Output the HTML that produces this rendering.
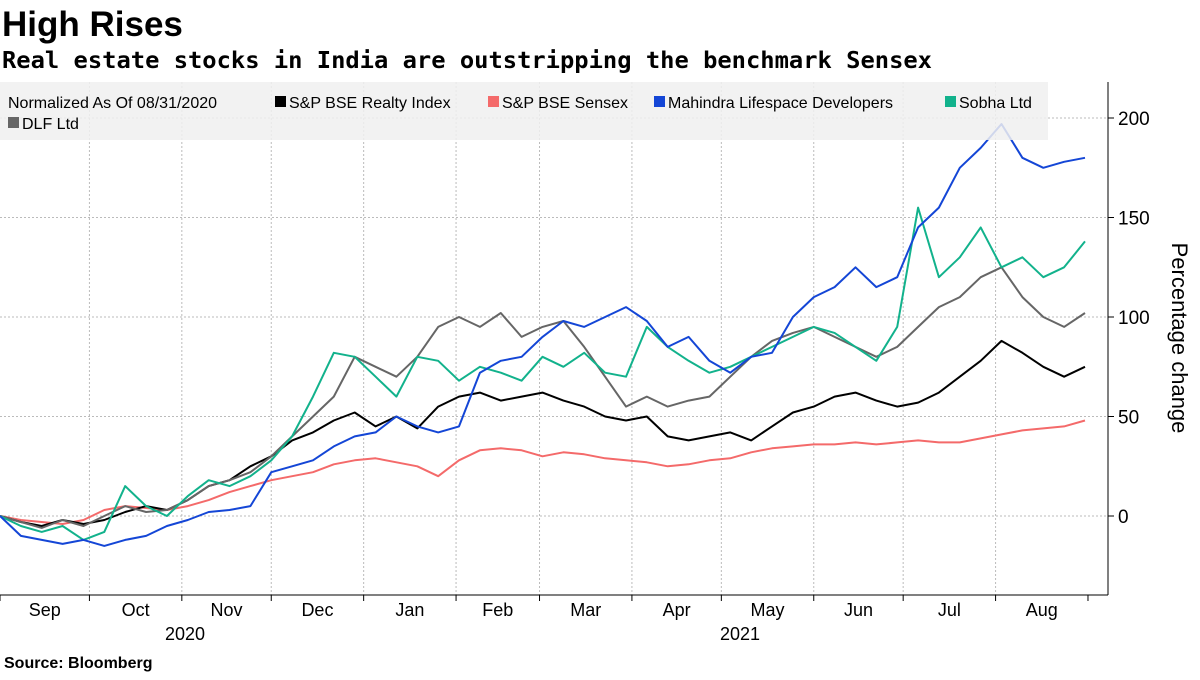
<!DOCTYPE html>
<html><head><meta charset="utf-8"><style>
body{margin:0;background:#fff;width:1200px;height:675px;overflow:hidden;font-family:"Liberation Sans",sans-serif}
</style></head><body>
<svg id="c" width="1200" height="675" xmlns="http://www.w3.org/2000/svg">
<text x="2" y="36" font-size="35" font-weight="bold" fill="#000">High Rises</text>
<text x="2" y="68" font-size="23" font-weight="bold" fill="#000" textLength="930" lengthAdjust="spacingAndGlyphs" font-family="DejaVu Sans Mono, monospace">Real estate stocks in India are outstripping the benchmark Sensex</text>
<g id="grid"></g>
<g id="series"></g>
<rect x="0" y="82" width="1048" height="58" fill="#f0f0f0" fill-opacity="0.85"/>
<g font-size="16" fill="#000">
<text x="8" y="108">Normalized As Of 08/31/2020</text>
<g><rect x="275" y="96" width="11" height="11" fill="#000"/><text x="289" y="108">S&amp;P BSE Realty Index</text></g>
<g><rect x="488" y="96" width="11" height="11" fill="#f46a6a"/><text x="502" y="108">S&amp;P BSE Sensex</text></g>
<g><rect x="654" y="96" width="11" height="11" fill="#1446d6"/><text x="668" y="108">Mahindra Lifespace Developers</text></g>
<g><rect x="945" y="96" width="11" height="11" fill="#12b28c"/><text x="959" y="108">Sobha Ltd</text></g>
<g><rect x="8" y="117" width="11" height="11" fill="#666"/><text x="22" y="129">DLF Ltd</text></g>
</g>
<line x1="1108" y1="82" x2="1108" y2="595" stroke="#000"/>
<line x1="0" y1="595" x2="1108" y2="595" stroke="#000"/>
<g id="yticks" font-size="19"></g>
<g id="xticks" font-size="18"></g>
<text transform="translate(1172,338) rotate(90)" text-anchor="middle" font-size="22">Percentage change</text>
<text x="4" y="668" font-size="16" font-weight="bold">Source: Bloomberg</text>
</svg>
<script>
const yTicks=[0,50,100,150,200];
const months=["Sep","Oct","Nov","Dec","Jan","Feb","Mar","Apr","May","Jun","Jul","Aug"];
const monthStartDays=[0,30,61,91,122,153,181,212,242,273,303,334,365];
const years=["2020","2021"];
const sensex=[0,-2,-3,-4,-2,3,5,4,3,5,8,12,15,18,20,22,26,28,29,27,25,20,28,33,34,33,30,32,31,29,28,27,25,26,28,29,32,34,35,36,36,37,36,37,38,37,37,39,41,43,44,45,48];
const realty=[0,-3,-5,-2,-4,-2,2,5,3,8,15,18,25,30,38,42,48,52,45,50,44,55,60,62,58,60,62,58,55,50,48,50,40,38,40,42,38,45,52,55,60,62,58,55,57,62,70,78,88,82,75,70,75];
const mahindra=[0,-10,-12,-14,-12,-15,-12,-10,-5,-2,2,3,5,22,25,28,35,40,42,50,45,42,45,72,78,80,90,98,95,100,105,98,85,90,78,72,80,82,100,110,115,125,115,120,145,155,175,185,197,180,175,178,180];
const sobha=[0,-5,-8,-5,-12,-8,15,5,0,10,18,15,20,28,40,60,82,80,70,60,80,78,68,75,72,68,80,75,82,72,70,95,85,78,72,75,80,85,90,95,92,85,78,95,155,120,130,145,125,130,120,125,138];
const dlf=[0,-3,-6,-2,-5,0,5,2,3,8,15,18,22,30,40,50,60,80,75,70,80,95,100,95,102,90,95,98,85,70,55,60,55,58,60,70,80,88,92,95,90,85,80,85,95,105,110,120,125,110,100,95,102];
const NS="http://www.w3.org/2000/svg";
const y=v=>516-v*1.99;
const xd=d=>d*1085/364;
function mk(t,a,p){const e=document.createElementNS(NS,t);for(const k in a)e.setAttribute(k,a[k]);p.appendChild(e);return e;}
const grid=document.getElementById('grid'),yt=document.getElementById('yticks'),xt=document.getElementById('xticks');
yTicks.forEach(v=>{
 const l=mk('line',{x1:0,x2:1108,y1:y(v),y2:y(v),stroke:'#bbb','stroke-dasharray':'2,2'},grid);
 
 
 mk('line',{x1:1108,x2:1114,y1:y(v),y2:y(v),stroke:'#000'},yt);
 const t=mk('text',{x:1118,y:y(v)+7},yt);t.textContent=v;
 
 
});
monthStartDays.forEach((d,i)=>{
 if(i>0&&i<monthStartDays.length-1){
  const l=mk('line',{x1:xd(d),x2:xd(d),y1:82,y2:595,stroke:'#bbb','stroke-dasharray':'2,2'},grid);
  
  
 }
 mk('line',{x1:xd(d),x2:xd(d),y1:595,y2:601,stroke:'#000'},xt);
 if(i<months.length){
  const t=mk('text',{x:xd((d+monthStartDays[i+1])/2),y:616,'text-anchor':'middle'},xt);t.textContent=months[i];
  
  
 }
});
[[years[0],185],[years[1],740]].forEach(([s,x])=>{const t=mk('text',{x:x,y:640,'text-anchor':'middle'},xt);t.textContent=s;
 
 });
const sg=document.getElementById('series');
[[sensex,'#f46a6a','sensex-line'],[realty,'#000','realty-line'],[dlf,'#666','dlf-line'],[sobha,'#12b28c','sobha-line'],[mahindra,'#1446d6','mahindra-line']].forEach(([arr,c,n])=>{
 const pts=arr.map((v,i)=>xd(i*364/(arr.length-1)).toFixed(1)+','+y(v).toFixed(1)).join(' ');
 const p=mk('polyline',{points:pts,fill:'none',stroke:c,'stroke-width':2,'stroke-linejoin':'round'},sg);
 
 
});
</script>
</body></html>
